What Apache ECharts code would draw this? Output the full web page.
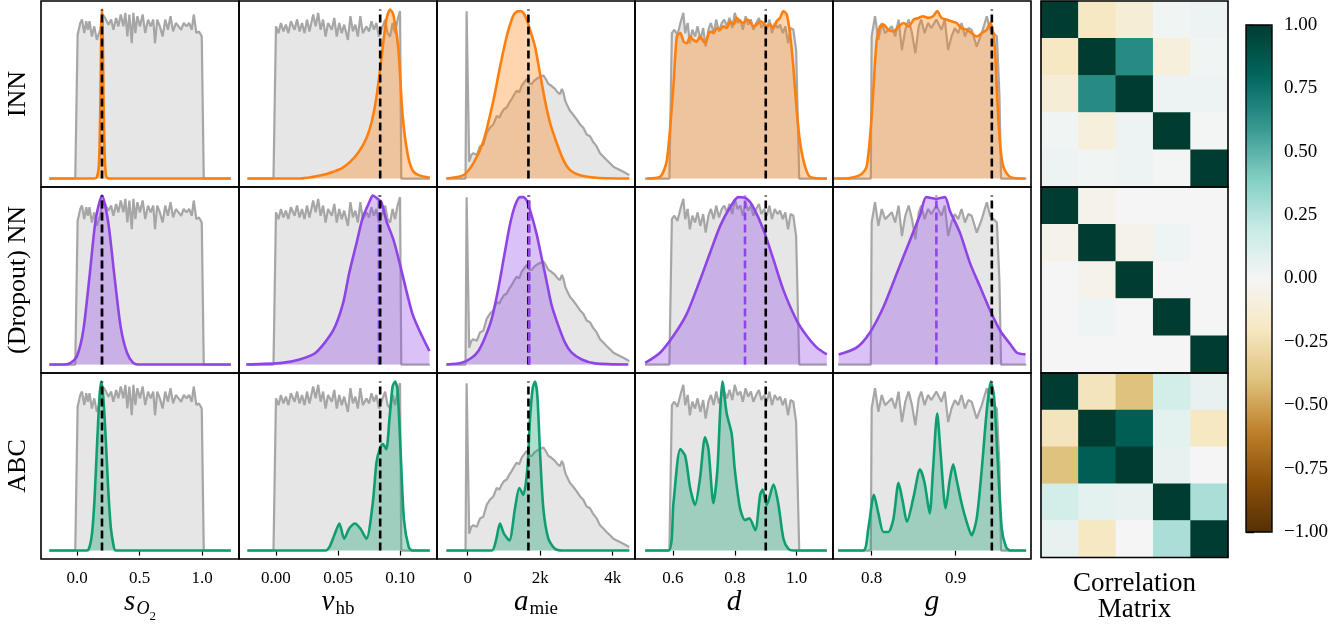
<!DOCTYPE html>
<html>
<head>
<meta charset="utf-8" />
<title>Posterior comparison</title>
<script src="https://cdn.jsdelivr.net/npm/echarts@6/dist/echarts.min.js"></script>
<style>
  html, body { margin: 0; padding: 0; background: #fff; }
  #main { width: 1342px; height: 624px; }
</style>
</head>
<body>
<div id="main"></div>
<script>
// ---- data (densities scaled to peak ~1) ----
var rowNames = ['INN', '(Dropout) NN', 'ABC'];

var sO2Ticks = [0, 0.5, 1.0];
var sO2TickLabels = ['0.0', '0.5', '1.0'];
var vhbTicks = [0, 0.05, 0.10];
var vhbTickLabels = ['0.00', '0.05', '0.10'];
var amieTicks = [0, 2000, 4000];
var amieTickLabels = ['0', '2k', '4k'];
var dTicks = [0.6, 0.8, 1.0];
var dTickLabels = ['0.6', '0.8', '1.0'];
var gTicks = [0.8, 0.9];
var gTickLabels = ['0.8', '0.9'];

// ground truth (black dashed) and dropout-NN mean (purple dashed)
var truthValues = [0.2, 0.084, 1675, 0.9, 0.943];
var nnMeanValues = [0.2, 0.083, 1700, 0.833, 0.877];

// prior (grey) curves, shared by all rows
var priorSO2 = [[-0.224,0],[-0.014,0],[0.005,0.85],[0.026,0.92],[0.04,0.94],[0.058,0.86],[0.074,0.93],[0.087,0.88],[0.1,0.93],[0.119,0.84],[0.138,0.9],[0.159,0.82],[0.185,0.88],[0.205,0.97],[0.225,0.95],[0.252,0.91],[0.273,0.94],[0.291,0.88],[0.313,0.95],[0.331,0.9],[0.35,0.97],[0.371,0.9],[0.387,0.98],[0.403,0.84],[0.419,0.97],[0.438,0.8],[0.451,0.98],[0.467,0.86],[0.483,0.96],[0.504,0.9],[0.525,0.97],[0.546,0.86],[0.568,0.94],[0.589,0.9],[0.61,0.94],[0.624,0.8],[0.642,0.94],[0.663,0.9],[0.685,0.84],[0.706,0.94],[0.727,0.88],[0.748,0.96],[0.769,0.87],[0.791,0.92],[0.812,0.9],[0.833,0.88],[0.854,0.92],[0.876,0.9],[0.897,0.92],[0.918,0.88],[0.934,0.97],[0.955,0.86],[0.976,0.87],[0.998,0.84],[1.014,0],[1.232,0]];
var priorVhb = [[-0.023,0],[-0.002,0],[0.0,0.9],[0.002,0.86],[0.004,0.92],[0.006,0.87],[0.008,0.91],[0.01,0.86],[0.012,0.93],[0.015,0.88],[0.017,0.94],[0.019,0.87],[0.021,0.92],[0.023,0.86],[0.025,0.94],[0.027,0.87],[0.03,0.97],[0.032,0.9],[0.034,0.98],[0.036,0.88],[0.038,0.94],[0.04,0.84],[0.042,0.92],[0.045,0.88],[0.047,0.95],[0.049,0.84],[0.051,0.92],[0.053,0.86],[0.055,0.91],[0.058,0.82],[0.06,0.96],[0.062,0.87],[0.064,0.91],[0.066,0.84],[0.068,0.96],[0.07,0.86],[0.073,0.9],[0.075,0.87],[0.077,0.93],[0.079,0.88],[0.081,0.92],[0.083,0.84],[0.085,0.88],[0.088,0.94],[0.09,0.86],[0.092,0.84],[0.094,0.92],[0.096,0.86],[0.098,0.94],[0.1,0.99],[0.101,0],[0.124,0]];
var priorAmie = [[-600,0],[-60,0],[-30,0.99],[40,0.1],[100,0.14],[156,0.15],[250,0.14],[340,0.19],[430,0.2],[524,0.27],[610,0.3],[708,0.32],[800,0.37],[870,0.36],[938,0.39],[1000,0.41],[1076,0.42],[1150,0.45],[1214,0.47],[1290,0.5],[1352,0.52],[1420,0.51],[1490,0.55],[1560,0.57],[1628,0.59],[1700,0.56],[1766,0.56],[1840,0.58],[1903,0.59],[1990,0.6],[2087,0.61],[2150,0.59],[2224,0.56],[2300,0.55],[2408,0.53],[2480,0.51],[2546,0.5],[2600,0.53],[2638,0.51],[2690,0.46],[2731,0.44],[2822,0.4],[2900,0.38],[3007,0.35],[3100,0.32],[3190,0.3],[3280,0.26],[3374,0.25],[3450,0.22],[3558,0.19],[3650,0.15],[3741,0.13],[3830,0.11],[3926,0.09],[4020,0.07],[4110,0.06],[4200,0.05],[4293,0.04],[4380,0.03],[4458,0.02]];
var priorD = [[0.51,0],[0.589,0],[0.597,0.86],[0.605,0.88],[0.615,0.85],[0.626,0.93],[0.634,0.98],[0.64,0.86],[0.648,0.92],[0.655,0.8],[0.663,0.88],[0.672,0.84],[0.68,0.9],[0.689,0.82],[0.698,0.89],[0.706,0.78],[0.715,0.88],[0.723,0.92],[0.732,0.86],[0.74,0.94],[0.749,0.87],[0.758,0.92],[0.766,0.94],[0.775,0.9],[0.783,0.95],[0.792,0.89],[0.8,0.98],[0.809,0.92],[0.818,0.94],[0.826,0.88],[0.835,0.96],[0.843,0.91],[0.852,0.94],[0.86,0.88],[0.869,0.92],[0.878,0.95],[0.886,0.89],[0.895,0.92],[0.903,0.88],[0.912,0.94],[0.92,0.86],[0.929,0.92],[0.938,0.89],[0.946,0.91],[0.955,0.86],[0.963,0.9],[0.972,0.8],[0.98,0.89],[0.989,0.88],[0.998,0.76],[1.008,0],[1.097,0]];
var priorG = [[0.76,0],[0.799,0],[0.8,0.84],[0.804,0.96],[0.808,0.82],[0.812,0.92],[0.816,0.86],[0.82,0.88],[0.824,0.9],[0.828,0.84],[0.832,0.94],[0.836,0.76],[0.84,0.88],[0.844,0.94],[0.848,0.86],[0.852,0.74],[0.856,0.9],[0.859,0.94],[0.863,0.86],[0.867,0.92],[0.871,0.89],[0.877,0.94],[0.883,0.88],[0.887,0.94],[0.891,0.76],[0.895,0.84],[0.899,0.89],[0.903,0.86],[0.907,0.92],[0.911,0.84],[0.915,0.89],[0.919,0.88],[0.925,0.78],[0.931,0.86],[0.937,0.96],[0.941,0.88],[0.945,0.86],[0.949,0.84],[0.952,0.5],[0.954,0],[0.984,0]];

// INN posteriors (orange)
var innSO2 = [[-0.22,0],[0.14,0],[0.16,0.01],[0.175,0.08],[0.185,0.35],[0.19,0.62],[0.195,0.9],[0.2,1.0],[0.205,0.9],[0.21,0.62],[0.215,0.33],[0.225,0.08],[0.235,0.01],[0.26,0],[1.23,0]];
var innVhb = [[-0.023,0],[0.02,0],[0.03,0.01],[0.04,0.025],[0.046,0.04],[0.053,0.06],[0.06,0.1],[0.067,0.16],[0.073,0.24],[0.077,0.33],[0.081,0.48],[0.085,0.71],[0.089,0.94],[0.092,1.0],[0.0946,0.97],[0.0986,0.77],[0.102,0.38],[0.106,0.15],[0.11,0.05],[0.115,0.02],[0.124,0.005]];
var innAmie = [[-580,0],[-120,0.02],[155,0.09],[431,0.22],[707,0.46],[891,0.66],[1075,0.84],[1214,0.94],[1306,0.98],[1444,0.99],[1535,0.98],[1627,0.94],[1719,0.88],[1857,0.78],[1995,0.62],[2133,0.46],[2271,0.33],[2455,0.21],[2638,0.11],[2822,0.05],[3098,0.02],[3558,0.005],[4458,0]];
var innD = [[0.516,0],[0.559,0.01],[0.581,0.11],[0.602,0.55],[0.613,0.84],[0.624,0.86],[0.635,0.81],[0.645,0.8],[0.656,0.84],[0.666,0.82],[0.677,0.81],[0.688,0.84],[0.704,0.8],[0.72,0.87],[0.731,0.86],[0.742,0.89],[0.752,0.88],[0.763,0.9],[0.774,0.89],[0.785,0.93],[0.796,0.91],[0.806,0.95],[0.817,0.93],[0.828,0.92],[0.839,0.94],[0.849,0.93],[0.86,0.9],[0.871,0.91],[0.882,0.93],[0.892,0.92],[0.903,0.9],[0.914,0.91],[0.925,0.89],[0.935,0.93],[0.946,0.95],[0.957,0.99],[0.968,0.97],[0.978,0.86],[0.989,0.66],[1.0,0.4],[1.011,0.21],[1.027,0.07],[1.043,0.01],[1.097,0]];
var innG = [[0.755,0],[0.768,0],[0.786,0.02],[0.794,0.07],[0.8,0.37],[0.806,0.82],[0.81,0.9],[0.814,0.91],[0.82,0.88],[0.826,0.87],[0.832,0.9],[0.838,0.92],[0.844,0.9],[0.85,0.94],[0.856,0.95],[0.861,0.96],[0.867,0.95],[0.873,0.96],[0.878,0.99],[0.883,0.95],[0.889,0.94],[0.895,0.93],[0.901,0.92],[0.907,0.89],[0.913,0.88],[0.919,0.86],[0.925,0.84],[0.931,0.86],[0.937,0.88],[0.941,0.92],[0.944,0.88],[0.9468,0.76],[0.9496,0.46],[0.9527,0.21],[0.9567,0.07],[0.9646,0.01],[0.9825,0]];

// (Dropout) NN posteriors (purple)
var nnSO2 = [[-0.22,0],[-0.1,0],[-0.05,0.01],[0.0,0.05],[0.05,0.2],[0.1,0.52],[0.15,0.86],[0.2,1.0],[0.25,0.84],[0.3,0.52],[0.35,0.22],[0.4,0.07],[0.45,0.01],[0.5,0],[1.23,0]];
var nnVhb = [[-0.024,0],[0.005,0.01],[0.019,0.03],[0.032,0.07],[0.046,0.2],[0.054,0.36],[0.059,0.54],[0.065,0.72],[0.07,0.87],[0.0758,0.97],[0.078,1.0],[0.082,0.98],[0.085,0.96],[0.089,0.85],[0.0946,0.74],[0.0997,0.6],[0.105,0.44],[0.11,0.3],[0.1157,0.2],[0.1237,0.08]];
var nnAmie = [[-580,0],[-166,0.01],[110,0.04],[294,0.08],[477,0.16],[662,0.27],[845,0.45],[1029,0.67],[1167,0.83],[1305,0.94],[1443,0.99],[1534,0.99],[1627,0.97],[1766,0.88],[1903,0.77],[2041,0.63],[2179,0.49],[2317,0.35],[2500,0.23],[2684,0.13],[2869,0.07],[3145,0.03],[3512,0.007],[4430,0]];
var nnD = [[0.511,0.01],[0.559,0.07],[0.602,0.17],[0.645,0.3],[0.688,0.5],[0.72,0.66],[0.753,0.82],[0.785,0.93],[0.812,0.99],[0.839,0.98],[0.86,0.93],[0.892,0.8],[0.925,0.62],[0.957,0.44],[1.0,0.26],[1.032,0.17],[1.065,0.1],[1.097,0.06]];
var nnG = [[0.7607,0.06],[0.782,0.1],[0.798,0.19],[0.814,0.34],[0.83,0.54],[0.846,0.74],[0.858,0.89],[0.865,0.99],[0.877,0.98],[0.887,0.99],[0.893,0.91],[0.905,0.78],[0.917,0.6],[0.929,0.46],[0.941,0.32],[0.953,0.2],[0.965,0.12],[0.973,0.07],[0.983,0.06]];

// ABC posteriors (green)
var abcSO2 = [[-0.22,0],[0.08,0],[0.1,0.02],[0.12,0.1],[0.14,0.3],[0.16,0.62],[0.18,0.91],[0.194,1.0],[0.21,0.91],[0.23,0.66],[0.25,0.36],[0.27,0.14],[0.29,0.04],[0.31,0],[1.23,0]];
var abcVhb = [[-0.023,0],[0.04,0],[0.043,0.02],[0.047,0.09],[0.0511,0.16],[0.055,0.07],[0.059,0.13],[0.0637,0.16],[0.068,0.13],[0.073,0.07],[0.078,0.28],[0.081,0.52],[0.0836,0.6],[0.0862,0.63],[0.0889,0.6],[0.0915,0.78],[0.094,0.97],[0.096,1.0],[0.098,0.95],[0.1005,0.58],[0.1032,0.18],[0.107,0.02],[0.11,0],[0.124,0]];
var abcAmie = [[-580,0],[662,0],[780,0.06],[891,0.16],[1000,0.1],[1148,0.06],[1305,0.25],[1424,0.37],[1534,0.33],[1644,0.48],[1719,0.78],[1793,0.96],[1857,1.0],[1920,0.92],[1995,0.58],[2086,0.25],[2225,0.07],[2408,0.01],[2600,0],[4458,0]];
var abcD = [[0.511,0],[0.586,0],[0.602,0.28],[0.624,0.6],[0.64,0.56],[0.656,0.37],[0.672,0.27],[0.688,0.43],[0.704,0.67],[0.715,0.6],[0.731,0.28],[0.744,0.48],[0.753,0.83],[0.76,1.0],[0.774,0.81],[0.79,0.69],[0.8,0.48],[0.817,0.25],[0.833,0.18],[0.847,0.19],[0.866,0.12],[0.882,0.33],[0.89,0.36],[0.903,0.27],[0.925,0.39],[0.941,0.27],[0.957,0.07],[0.973,0.01],[0.99,0],[1.097,0]];
var abcG = [[0.7599,0],[0.79,0],[0.796,0.13],[0.8027,0.33],[0.808,0.22],[0.814,0.11],[0.82,0.11],[0.826,0.19],[0.832,0.4],[0.837,0.29],[0.842,0.17],[0.85,0.32],[0.8575,0.48],[0.863,0.4],[0.869,0.22],[0.873,0.48],[0.878,0.81],[0.882,0.58],[0.888,0.25],[0.893,0.42],[0.897,0.51],[0.901,0.42],[0.907,0.28],[0.913,0.17],[0.919,0.09],[0.925,0.19],[0.931,0.48],[0.937,0.83],[0.9417,1.0],[0.9456,0.91],[0.9495,0.58],[0.9548,0.13],[0.96,0.02],[0.965,0],[0.9837,0]];

// correlation matrices (order: sO2, vhb, amie, d, g)
var corrINN = [
  [1.00, -0.20, -0.12, 0.02, 0.04],
  [-0.20, 1.00, 0.65, -0.10, 0.02],
  [-0.12, 0.65, 1.00, 0.04, 0.04],
  [0.02, -0.10, 0.04, 1.00, 0.01],
  [0.04, 0.02, 0.04, 0.01, 1.00]
];
var corrNN = [
  [1.00, -0.05, 0.00, 0.00, 0.00],
  [-0.05, 1.00, -0.05, 0.03, 0.00],
  [0.00, -0.05, 1.00, 0.00, 0.00],
  [0.00, 0.03, 0.00, 1.00, 0.00],
  [0.00, 0.00, 0.00, 0.00, 1.00]
];
var corrABC = [
  [1.00, -0.22, -0.40, 0.15, 0.06],
  [-0.22, 1.00, 0.84, 0.08, -0.20],
  [-0.40, 0.84, 1.00, 0.06, 0.00],
  [0.15, 0.08, 0.06, 1.00, 0.28],
  [0.06, -0.20, 0.00, 0.28, 1.00]
];

// ---- layout ----
var FONT = 'Liberation Serif';
var rowColors = ['#ff7f0e', '#8f45e6', '#0f9e71'];
var brbg = ['#543005', '#8c510a', '#bf812d', '#dfc27d', '#f6e8c3', '#f5f5f5', '#c7eae5', '#80cdc1', '#35978f', '#01665e', '#003c30'];
var colLeft = [41, 239, 437, 635, 833];
var rowTop = [1, 187, 373];
var panelW = 198, panelH = 186;
var xRanges = [[-0.288, 1.296], [-0.0298, 0.1298], [-847, 4615], [0.478, 1.117], [0.754, 0.9896]];

var priors = [priorSO2, priorVhb, priorAmie, priorD, priorG];
var posts = [
  [innSO2, innVhb, innAmie, innD, innG],
  [nnSO2, nnVhb, nnAmie, nnD, nnG],
  [abcSO2, abcVhb, abcAmie, abcD, abcG]
];
var ticks = [sO2Ticks, vhbTicks, amieTicks, dTicks, gTicks];
var tickLabels = [sO2TickLabels, vhbTickLabels, amieTickLabels, dTickLabels, gTickLabels];
var corrs = [corrINN, corrNN, corrABC];

var axisNames = ['{m|s}{s|O}{ss|2}', '{m|v}{r|hb}', '{m|a}{r|mie}', '{m|d}', '{m|g}'];
var nameRich = {
  m: { fontFamily: FONT, fontStyle: 'italic', fontSize: 29, color: '#000', verticalAlign: 'top' },
  s: { fontFamily: FONT, fontStyle: 'italic', fontSize: 18, color: '#000', padding: [12, 0, 0, 1], verticalAlign: 'top' },
  ss: { fontFamily: FONT, fontSize: 13, color: '#000', padding: [22, 0, 0, 0], verticalAlign: 'top' },
  r: { fontFamily: FONT, fontSize: 19, color: '#000', padding: [12, 0, 0, 1], verticalAlign: 'top' }
};

var grids = [], xAxes = [], yAxes = [], series = [];
var heatIdx = [];

for (var r = 0; r < 3; r++) {
  for (var c = 0; c < 5; c++) {
    var gi = grids.length;
    var bottom = (r === 2);
    grids.push({
      left: colLeft[c], top: rowTop[r], width: panelW, height: panelH,
      show: true, borderColor: '#000', borderWidth: 1.6, z: 6
    });
    (function (c, bottom) {
      xAxes.push({
        gridIndex: gi, type: 'value', min: xRanges[c][0], max: xRanges[c][1],
        axisLine: { show: false }, splitLine: { show: false },
        axisTick: { show: bottom, customValues: ticks[c], length: 5, lineStyle: { color: '#000', width: 1.2 } },
        axisLabel: {
          show: bottom, customValues: ticks[c], margin: 11,
          fontFamily: FONT, fontSize: 17, color: '#000',
          formatter: function (v) {
            var i = ticks[c].indexOf(v);
            return i >= 0 ? tickLabels[c][i] : '';
          }
        },
        name: bottom ? axisNames[c] : '', nameLocation: 'middle', nameGap: 29,
        nameTextStyle: { rich: nameRich }
      });
    })(c, bottom);
    yAxes.push({
      gridIndex: gi, type: 'value', min: -0.05, max: 1.05,
      axisLine: { show: false }, axisTick: { show: false }, axisLabel: { show: false }, splitLine: { show: false },
      name: c === 0 ? rowNames[r] : '', nameLocation: 'middle', nameRotate: 90, nameGap: 10,
      nameTextStyle: { fontFamily: FONT, fontSize: 26, color: '#000' }
    });

    var col = rowColors[r];
    series.push({
      type: 'line', xAxisIndex: gi, yAxisIndex: gi, data: priors[c],
      symbol: 'none', silent: true, z: 1,
      lineStyle: { color: '#a6a6a6', width: 2.2 },
      areaStyle: { color: '#e6e6e6', opacity: 1 }
    });
    series.push({
      type: 'line', xAxisIndex: gi, yAxisIndex: gi, data: posts[r][c],
      symbol: 'none', silent: true, z: 2, smooth: 0.25,
      lineStyle: { color: col, width: 2.6 },
      areaStyle: { color: col, opacity: 0.33 }
    });
    series.push({
      type: 'line', xAxisIndex: gi, yAxisIndex: gi,
      data: [[truthValues[c], 0], [truthValues[c], 1]],
      symbol: 'none', silent: true, z: 4,
      lineStyle: { color: '#000', width: 2.6, type: [8, 4] }
    });
    if (r === 1) {
      series.push({
        type: 'line', xAxisIndex: gi, yAxisIndex: gi,
        data: [[nnMeanValues[c], 0], [nnMeanValues[c], 1]],
        symbol: 'none', silent: true, z: c === 2 ? 5 : 3,
        lineStyle: { color: col, width: 2.6, type: [8, 4] }
      });
    }
  }
}

// correlation matrices
var cats = ['0', '1', '2', '3', '4'];
for (var r = 0; r < 3; r++) {
  var gi = grids.length;
  grids.push({
    left: 1041, top: rowTop[r], width: 187, height: panelH,
    show: true, borderColor: '#000', borderWidth: 1.6, z: 6
  });
  xAxes.push({
    gridIndex: gi, type: 'category', data: cats,
    axisLine: { show: false }, axisTick: { show: false }, axisLabel: { show: false }, splitLine: { show: false },
    name: r === 2 ? 'Correlation\nMatrix' : '', nameLocation: 'middle', nameGap: 13,
    nameTextStyle: { fontFamily: FONT, fontSize: 27, lineHeight: 26, color: '#000', verticalAlign: 'top' }
  });
  yAxes.push({
    gridIndex: gi, type: 'category', data: cats, inverse: true,
    axisLine: { show: false }, axisTick: { show: false }, axisLabel: { show: false }, splitLine: { show: false }
  });
  var cells = [];
  for (var i = 0; i < 5; i++) {
    for (var j = 0; j < 5; j++) {
      cells.push([j, i, corrs[r][i][j]]);
    }
  }
  heatIdx.push(series.length);
  series.push({
    type: 'heatmap', xAxisIndex: gi, yAxisIndex: gi, data: cells, silent: true,
    itemStyle: { borderWidth: 0 }
  });
}

// colorbar axis (frame + ticks over the visualMap bar)
var cbIndex = grids.length;
grids.push({ left: 1246, top: 25, width: 26, height: 507, show: true, borderColor: '#000', borderWidth: 1.4, z: 10 });
xAxes.push({ gridIndex: cbIndex, type: 'value', show: false, min: 0, max: 1 });
yAxes.push({
  gridIndex: cbIndex, type: 'value', position: 'right', min: -1, max: 1, interval: 0.25,
  axisLine: { show: false }, splitLine: { show: false },
  axisTick: { show: true, length: 8, lineStyle: { color: '#000', width: 1.4 } },
  axisLabel: {
    margin: 12, fontFamily: FONT, fontSize: 19, color: '#000',
    formatter: function (v) { return (v < 0 ? '\u2212' : '') + Math.abs(v).toFixed(2); }
  }
});

var option = {
  animation: false,
  backgroundColor: '#fff',
  textStyle: { fontFamily: FONT },
  grid: grids,
  xAxis: xAxes,
  yAxis: yAxes,
  visualMap: {
    type: 'continuous', min: -1, max: 1, dimension: 2, seriesIndex: heatIdx,
    calculable: false, orient: 'vertical', left: 1246, top: 25,
    itemWidth: 26, itemHeight: 507, padding: 0, text: null, hoverLink: false,
    inRange: { color: brbg }
  },
  series: series
};

var chart = echarts.init(document.getElementById('main'), null, { renderer: 'canvas' });
chart.setOption(option);
window.onresize = chart.resize;
</script>
</body>
</html>
